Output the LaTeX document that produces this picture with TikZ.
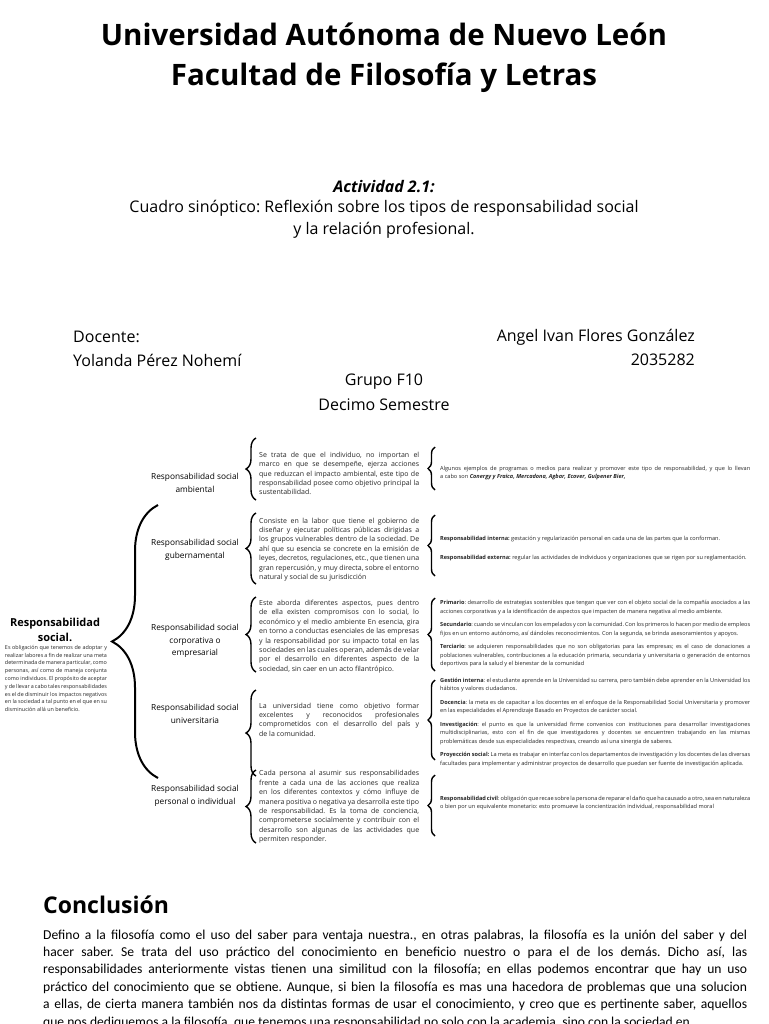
\documentclass[tikz,border=0pt]{standalone}
\usepackage{fontspec}
\setmainfont{Open Sans}
\newfontfamily\concfont{Carlito}
\usetikzlibrary{positioning, decorations.pathreplacing}
\hyphenpenalty=10000
\exhyphenpenalty=10000
\tolerance=9000
\emergencystretch=20pt
\frenchspacing
\tikzset{
    hdr/.style={inner sep=0pt, font=\fontsize{16}{22}\selectfont},
    rowname/.style={align=center, inner sep=0pt, font=\fontsize{8.3}{12.8}\selectfont},
    midtext/.style={text width=160pt, align=justify, inner sep=0pt, anchor=west, text=black!85, font=\fontsize{7}{9.4}\selectfont},
    sidetext/.style={text width=310pt, align=justify, inner sep=0pt, anchor=west, text=black!85, font=\fontsize{5.6}{8.5}\selectfont},
    brc/.style={decorate, decoration={brace, amplitude=#1}, line width=1.4pt}
}
\newcommand{\itemgap}{\par\vspace{5pt}}

\begin{document}
\begin{tikzpicture}[x=1pt, y=-1pt]
    \useasboundingbox (0,0) rectangle (768,1024);
    \clip (0,0) rectangle (768,1024);
    \fill[white] (0,0) rectangle (768,1024);

    % encabezado
    \node[align=center, font=\fontsize{29.5}{40}\selectfont\bfseries] (titulo) at (384,58) {Universidad Autónoma de Nuevo León\\Facultad de Filosofía y Letras};
    \node[hdr, font=\fontsize{16}{22}\selectfont\bfseries\itshape] (actividad) at (384,187) {Actividad 2.1:};
    \node[hdr, align=center] (tema) at (384,219) {Cuadro sinóptico: Reflexión sobre los tipos de responsabilidad social\\y la relación profesional.};
    \node[hdr, anchor=west] (docente) at (73,337) {Docente:};
    \node[hdr, anchor=west] (maestra) at (73,360) {Yolanda Pérez Nohemí};
    \node[hdr, anchor=east] (alumno) at (695,337) {Angel Ivan Flores González};
    \node[hdr, anchor=east] (matricula) at (695,360) {2035282};
    \node[hdr] (grupo) at (384,382) {Grupo F10};
    \node[hdr] (semestre) at (384,405) {Decimo Semestre};

    % cuadro sinoptico
    \node[align=center, inner sep=0pt, font=\fontsize{11}{15}\selectfont\bfseries] (rsocial) at (55,629.5) {Responsabilidad\\social.};
    \node[text width=102pt, align=justify, inner sep=0pt, anchor=north, text=black!85, font=\fontsize{5.4}{7.8}\selectfont] (definicion) at (56,645) {Es obligación que tenemos de adoptar y realizar labores a fin de realizar una meta determinada de manera particular, como personas, así como de maneja conjunta como individuos. El propósito de aceptar y de llevar a cabo tales responsabilidades es el de disminuir los impactos negativos en la sociedad a tal punto en el que en su disminución allá un beneficio.};
    \draw[brc=46pt, line width=2pt] (158,778) -- (158,505);

    % ambiental
    \node[rowname] (ambiental) at (195,482.5) {Responsabilidad social\\ambiental};
    \draw[brc=10pt] (256,500) -- (256,438);
    \node[midtext] (ambiental-def) at (259,473.5) {Se trata de que el individuo, no importan el marco en que se desempeñe, ejerza acciones que reduzcan el impacto ambiental, este tipo de responsabilidad posee como objetivo principal la sustentabilidad.};
    \draw[brc=7pt] (435,490) -- (435,447);
    \node[sidetext] (ambiental-ej) at (440,473) {Algunos ejemplos de programas o medios para realizar y promover este tipo de responsabilidad, y que lo llevan\linebreak a cabo son \textbf{\textit{Conergy y Fraica, Mercadona, Agbar, Ecover, Gulpener Bier,}}};

    % gubernamental
    \node[rowname] (gobierno) at (195,549.5) {Responsabilidad social\\gubernamental};
    \draw[brc=10pt] (256,584) -- (256,513);
    \node[midtext] (gobierno-def) at (259,549.5) {Consiste en la labor que tiene el gobierno de diseñar y ejecutar políticas públicas dirigidas a los grupos vulnerables dentro de la sociedad. De ahí que su esencia se concrete en la emisión de leyes, decretos, regulaciones, etc., que tienen una gran repercusión, y muy directa, sobre el entorno natural y social de su jurisdicción};
    \draw[brc=7pt] (435,576) -- (435,515);
    \node[sidetext] (gobierno-tipos) at (440,548.5) {\textbf{Responsabilidad interna:} gestación y regularización personal en cada una de las partes que la conforman.\par\vspace{11pt}
        \textbf{Responsabilidad externa:} regular las actividades de individuos y organizaciones que se rigen por su reglamentación.};

    % corporativa
    \node[rowname] (empresa) at (195,641) {Responsabilidad social\\corporativa o\\empresarial};
    \draw[brc=10pt] (256,672) -- (256,597);
    \node[midtext] (empresa-def) at (259,636.5) {Este aborda diferentes aspectos, pues dentro de ella existen compromisos con lo social, lo económico y el medio ambiente En esencia, gira en torno a conductas esenciales de las empresas y la responsabilidad por su impacto total en las sociedades en las cuales operan, además de velar por el desarrollo en diferentes aspecto de la sociedad, sin caer en un acto filantrópico.};
    \draw[brc=7pt] (435,671) -- (435,598);
    \node[sidetext] (empresa-niveles) at (440,634) {\textbf{Primario}: desarrollo de estrategias sostenibles que tengan que ver con el objeto social de la compañía asociados a las acciones corporativas y a la identificación de aspectos que impacten de manera negativa al medio ambiente.\itemgap
        \textbf{Secundario}: cuando se vinculan con los empelados y con la comunidad. Con los primeros lo hacen por medio de empleos fijos en un entorno autónomo, así dándoles reconocimientos. Con la segunda, se brinda asesoramientos y apoyos.\itemgap
        \textbf{Terciario}: se adquieren responsabilidades que no son obligatorias para las empresas; es el caso de donaciones a poblaciones vulnerables, contribuciones a la educación primaria, secundaria y universitaria o generación de entornos deportivos para la salud y el bienestar de la comunidad};

    % universitaria
    \node[rowname] (universidad) at (195,713.5) {Responsabilidad social\\universitaria};
    \draw[brc=10pt] (256,776) -- (256,690);
    \node[midtext] (universidad-def) at (259,719.5) {La universidad tiene como objetivo formar excelentes y reconocidos profesionales comprometidos con el desarrollo del país y de la comunidad.};
    \draw[brc=7pt] (435,760) -- (435,680);
    \node[sidetext] (universidad-ejes) at (440,722.5) {\textbf{Gestión interna}: el estudiante aprende en la Universidad su carrera, pero también debe aprender en la Universidad los hábitos y valores ciudadanos.\itemgap
        \textbf{Docencia}: la meta es de capacitar a los docentes en el enfoque de la Responsabilidad Social Universitaria y promover en las especialidades el Aprendizaje Basado en Proyectos de carácter social.\itemgap
        \textbf{Investigación}: el punto es que la universidad firme convenios con instituciones para desarrollar investigaciones multidisciplinarias, esto con el fin de que investigadores y docentes se encuentren trabajando en las mismas problemáticas desde sus especialidades respectivas, creando así una sinergia de saberes.\itemgap
        \textbf{Proyección social:} La meta es trabajar en interfaz con los departamentos de investigación y los docentes de las diversas facultades para implementar y administrar proyectos de desarrollo que puedan ser fuente de investigación aplicada.};

    % personal
    \node[rowname] (persona) at (195,796) {Responsabilidad social\\personal o individual};
    \draw[brc=10pt] (256,843) -- (256,770);
    \node[midtext] (persona-def) at (259,807) {Cada persona al asumir sus responsabilidades frente a cada una de las acciones que realiza en los diferentes contextos y cómo influye de manera positiva o negativa ya desarrolla este tipo de responsabilidad. Es la toma de conciencia, comprometerse socialmente y contribuir con el desarrollo son algunas de las actividades que permiten responder.};
    \draw[brc=7pt] (435,836) -- (435,775);
    \node[sidetext] (persona-civil) at (440,803) {\textbf{Responsabilidad civil}: obligación que recae sobre la persona de reparar el daño que ha causado a otro, sea en naturaleza o bien por un equivalente monetario: esto promueve la concientización individual, responsabilidad moral};

    % conclusion
    \node[anchor=west, inner sep=0pt, font=\fontsize{23}{28}\selectfont\bfseries] (conclusion) at (43,905) {Conclusión};
    \node[anchor=north west, inner sep=0pt, text width=704pt, align=justify, font=\concfont\fontsize{13.6}{17.4}\selectfont] (reflexion) at (43,929.5) {\parfillskip=0pt Defino a la filosofía como el uso del saber para ventaja nuestra., en otras palabras, la filosofía es la unión del saber y del\linebreak hacer saber. Se trata del uso práctico del conocimiento en beneficio nuestro o para el de los demás. Dicho así, las\linebreak responsabilidades anteriormente vistas tienen una similitud con la filosofía; en ellas podemos encontrar que hay un uso\linebreak práctico del conocimiento que se obtiene. Aunque, si bien la filosofía es mas una hacedora de problemas que una solucion\linebreak a ellas, de cierta manera también nos da distintas formas de usar el conocimiento, y creo que es pertinente saber, aquellos\linebreak que nos dediquemos a la filosofía, que tenemos una responsabilidad no solo con la academia, sino con la sociedad en};
\end{tikzpicture}
\end{document}
